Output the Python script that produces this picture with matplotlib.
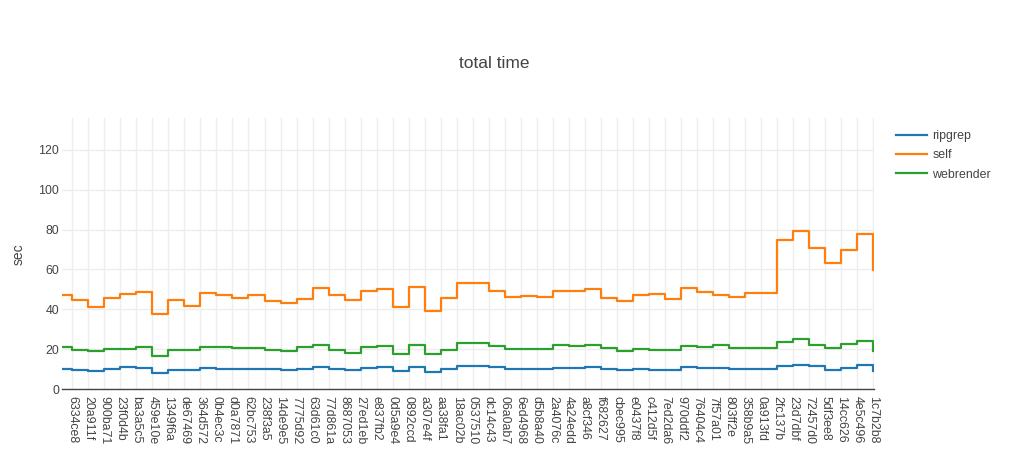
import numpy as np
import matplotlib
matplotlib.use("Agg")
import matplotlib.pyplot as plt
from matplotlib.transforms import ScaledTranslation

plt.rcParams['font.family'] = ['Liberation Sans', 'DejaVu Sans']

commits = ["6334ce8", "20a911f", "900ba71", "23f0d4b", "ba3a5c5", "459e10e", "1349f6a",
           "de67469", "364d572", "0b4ec3c", "d0a7871", "62bc753", "238f3a5", "14de9e5",
           "7775d92", "63d61c0", "77d861a", "8687053", "27ed1eb", "e837fb2", "0d5a9e4",
           "0892ccd", "a307e4f", "aa38fa1", "18ac02b", "0537510", "dc14c43", "06a0ab7",
           "6ed4968", "d5b8a40", "2a4076c", "4a24edd", "a8cf346", "f682627", "cbec995",
           "e0437f8", "c412d5f", "7ed2da6", "970ddf2", "76404c4", "7f57a01", "803ff2e",
           "358b9a5", "0a913fd", "2fc137b", "23d7dbf", "72457d0", "5df3ee8", "14cc626",
           "4e5c496", "1c7b2b8"]

# first value = run before the first shown commit (drawn left of it, clipped)
ripgrep = [10.2, 9.7, 8.8, 9.8, 10.8, 10.5, 8.2, 9.7, 9.3, 10.3, 10.2, 10.0, 10.0, 10.0,
           9.3, 10.0, 11.2, 9.8, 9.5, 10.3, 10.8, 8.8, 10.8, 8.5, 10.0, 11.3, 11.7, 11.0,
           10.0, 10.0, 10.0, 10.7, 10.7, 10.8, 10.0, 9.3, 9.8, 9.5, 9.7, 11.2, 10.5, 10.5,
           10.0, 10.2, 10.2, 11.7, 12.2, 11.3, 9.5, 10.7, 11.8, 8.8]
self_ = [47.0, 44.7, 41.0, 45.7, 47.8, 48.7, 37.7, 44.7, 41.8, 48.2, 47.2, 45.8, 47.2, 44.2,
         43.3, 45.3, 50.5, 47.0, 44.7, 49.2, 50.0, 41.0, 51.0, 39.2, 45.7, 53.3, 53.3, 49.3,
         46.3, 46.7, 46.3, 49.3, 49.3, 50.2, 45.8, 44.0, 47.0, 47.5, 45.0, 50.7, 48.8, 47.3,
         46.2, 48.2, 48.0, 74.7, 79.2, 70.7, 63.0, 69.8, 77.7, 59.7]
webrender = [21.0, 19.8, 19.2, 20.3, 20.0, 21.3, 16.5, 19.8, 19.5, 21.3, 21.0, 20.5, 20.7,
             19.7, 19.3, 21.0, 22.0, 19.8, 18.3, 21.3, 21.7, 17.8, 22.2, 17.8, 19.8, 23.0,
             23.0, 21.8, 20.3, 20.3, 20.2, 22.0, 21.5, 22.3, 20.8, 19.2, 20.2, 19.7, 19.8,
             21.7, 21.2, 22.0, 20.8, 20.8, 20.7, 23.8, 25.3, 22.2, 20.5, 22.7, 24.3, 19.0]

series = [("ripgrep", ripgrep, "#1f77b4"),
          ("self", self_, "#ff7f0e"),
          ("webrender", webrender, "#2ca02c")]

fig = plt.figure(figsize=(10.12, 4.51), dpi=100)
ax = fig.add_axes([62 / 1012, 1 - 389 / 451, 812 / 1012, 271 / 451])

x = np.arange(-1, len(commits))
for name, vals, col in series:
    ax.step(x, vals, where="post", color=col, lw=1.6, label=name)

ax.set_xlim(-0.64, len(commits) - 1 + 0.04)
ax.set_ylim(0, 136)
ax.set_yticks(np.arange(0, 121, 20))
ax.set_xticks(np.arange(len(commits)))
ax.set_xticklabels(commits, rotation=-90, ha="center", va="top")
shift = ScaledTranslation(-4 / 100, 0, fig.dpi_scale_trans)
for lbl in ax.get_xticklabels():
    lbl.set_transform(lbl.get_transform() + shift)

ax.grid(True, color="#eeeeee", lw=1)
ax.set_axisbelow(True)
for s in ["top", "right", "left"]:
    ax.spines[s].set_visible(False)
ax.spines["bottom"].set_color("#444444")
ax.spines["bottom"].set_linewidth(1)
ax.tick_params(axis="both", length=0, labelsize=8.9, colors="#444444", pad=5)
ax.tick_params(axis="y", pad=2)

fig.text(19 / 1012, 1 - 254 / 451, "sec", rotation=90, ha="center", va="center",
         fontsize=10, color="#444444")
fig.text(494 / 1012, 1 - 63 / 451, "total time", ha="center", va="center",
         fontsize=12.5, color="#444444")

fig.legend(loc="upper left", bbox_to_anchor=(891 / 1012, 1 - 125 / 451), frameon=False,
           fontsize=8.9, handlelength=2.5, handletextpad=0.45, labelspacing=0.6,
           borderaxespad=0, labelcolor="#444444")

fig.savefig("out.png", dpi=100)
